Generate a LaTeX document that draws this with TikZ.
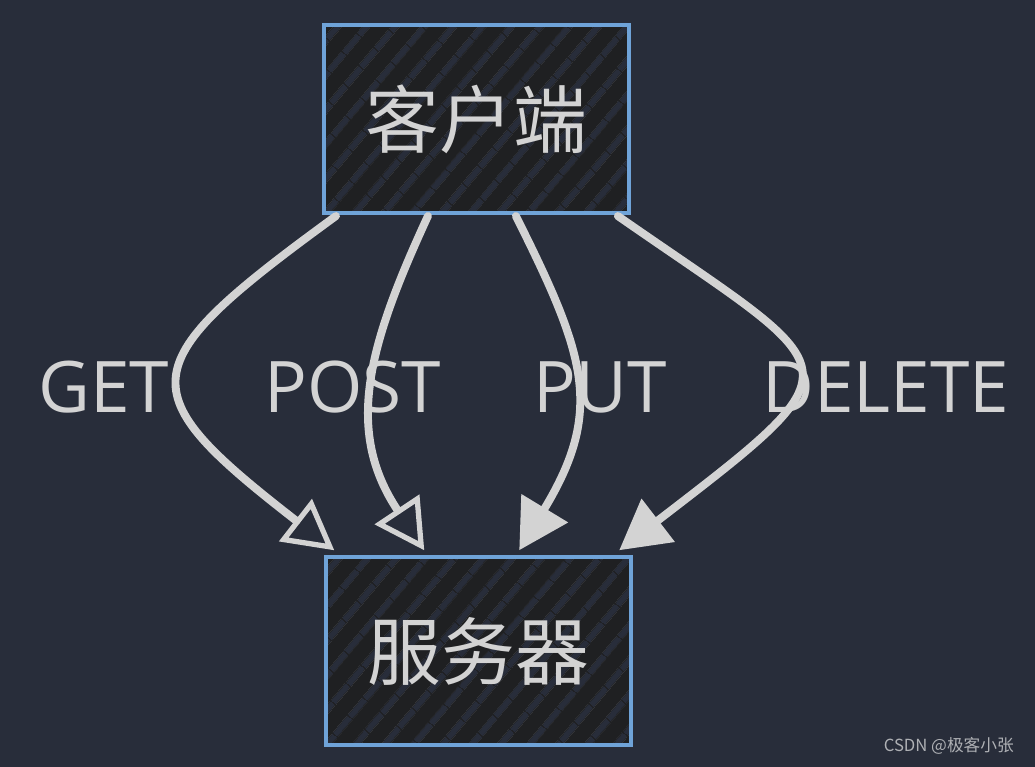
\documentclass[tikz,border=0pt]{standalone}
\usepackage{fontspec}
\setmainfont{Open Sans}
\newfontfamily\cjk{Noto Sans CJK SC}
\usetikzlibrary{arrows.meta,patterns.meta}
\definecolor{bgcol}{HTML}{282D3A}
\definecolor{boxfill}{HTML}{1F2022}
\definecolor{boxline}{HTML}{6FA3D8}
\definecolor{inkcol}{HTML}{D3D3D3}
\definecolor{markcol}{HTML}{AEB0B4}

\begin{document}
\begin{tikzpicture}[x=0.02cm, y=0.02cm,
    box/.style={draw=boxline, line width=2pt, preaction={fill=boxfill},
        pattern={Lines[angle=50,distance=13pt,line width=3.5pt]}, pattern color=bgcol,
        minimum width=6.1cm, minimum height=3.76cm, text=inkcol,
        font=\cjk\fontsize{42}{50}\selectfont},
    verb/.style={text=inkcol, font=\fontsize{40.5}{50}\selectfont},
    req/.style={draw=inkcol, line width=4.5pt, line cap=round},
    hollow/.style={-{Triangle[open,length=28pt,width=30pt,line width=3pt]}},
    solid/.style={-{Triangle[length=28pt,width=30pt]}}]
    % Sfondo
    \fill[bgcol] (0,0) rectangle (1035,767);
    \useasboundingbox (0,0) rectangle (1035,767);
    % Nodi
    \node[box] (client) at (476.5,648) {客户端};
    \node[box] (server) at (478.5,116) {服务器};
    % Etichette
    \node[verb] (get) at (104,380) {GET};
    \node[verb] (post) at (353,380) {POST};
    \node[verb] (put) at (600,380) {PUT};
    \node[verb] (delete) at (886,380) {DELETE};
    % Richieste
    \draw[req, hollow] ([xshift=0.3cm]client.south west)
        .. controls +(-206,-150) and +(-206,160) .. ([xshift=0.2cm,yshift=0.1cm]server.north west);
    \draw[req, hollow] ([xshift=2.14cm]client.south west)
        .. controls +(-60,-130) and +(-80,120) .. ([xshift=2cm,yshift=0.1cm]server.north west);
    \draw[req, solid] ([xshift=3.9cm]client.south west)
        .. controls +(70,-140) and +(85,140) .. ([xshift=3.9cm,yshift=0.1cm]server.north west);
    \draw[req, solid] ([xshift=5.94cm]client.south west)
        .. controls +(230,-160) and +(247,190) .. ([xshift=5.9cm,yshift=0.1cm]server.north west);
    % Firma
    \node[anchor=east, text=markcol, font=\cjk\fontsize{9.5}{11}\selectfont] (mark) at (1020,21) {CSDN @极客小张};
\end{tikzpicture}
\end{document}
